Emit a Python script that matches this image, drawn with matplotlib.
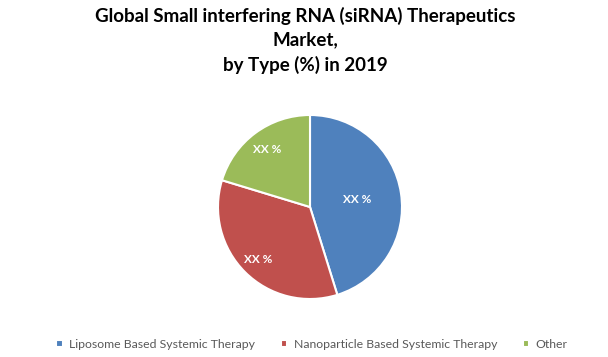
import matplotlib
matplotlib.use("Agg")
import matplotlib.pyplot as plt
import numpy as np

# 値（参照画像から読み取り）
types = ["Liposome Based Systemic Therapy", "Nanoparticle Based Systemic Therapy", "Other"]
shares = [45.2, 34.5, 20.3]
slice_labels = ["XX %", "XX %", "XX %"]
colors = ["#4F81BD", "#C0504D", "#9BBB59"]

plt.rcParams["font.family"] = ["Lato", "DejaVu Sans"]

fig = plt.figure(figsize=(6.08, 3.57), dpi=100)

fig.text(0.502, 0.982, "Global Small interfering RNA (siRNA) Therapeutics\nMarket,\nby Type (%) in 2019",
         ha="center", va="top", fontsize=13.5, fontweight="bold", color="black", linespacing=1.48)

ax = fig.add_axes([218 / 608, 58 / 357, 184 / 608, 184 / 357])
wedges, texts = ax.pie(shares, colors=colors, startangle=90, counterclock=False,
                       labels=slice_labels, labeldistance=None,
                       wedgeprops=dict(edgecolor="white", linewidth=1.5))
ax.set_xlim(-1.0, 1.0)
ax.set_ylim(-1.0, 1.0)
ax.set_aspect("equal")

# ラベル位置（中心からの距離）
label_r = [0.52, 0.8, 0.78]
for w, lab, r in zip(wedges, slice_labels, label_r):
    ang = np.deg2rad((w.theta1 + w.theta2) / 2)
    ax.text(r * np.cos(ang), r * np.sin(ang), lab, ha="center", va="center",
            color="white", fontsize=8.5, fontweight="bold")

leg = fig.legend(wedges, types, loc="center", bbox_to_anchor=(0.513, 0.036), ncol=3,
                 frameon=False, fontsize=8.8, handlelength=0.55, handleheight=0.55,
                 handletextpad=0.5, columnspacing=2.1, labelcolor="#595959")

fig.savefig("out.png", dpi=100)
